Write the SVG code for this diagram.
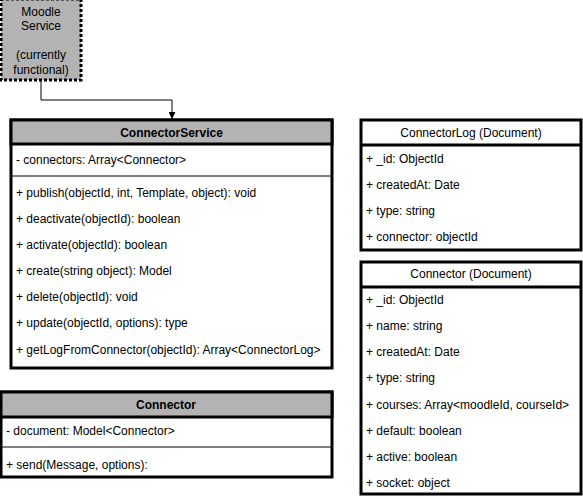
<svg xmlns="http://www.w3.org/2000/svg" width="583" height="499" viewBox="0 0 583 499">
<style>
text{font-family:"Liberation Sans",Arial,sans-serif;font-size:12px;fill:#000}
.t{font-size:12px;text-anchor:middle}
.b{font-weight:bold}
.box{fill:#fff;stroke:#000;stroke-width:3}
.hd{fill:#b3b3b3;stroke:#000;stroke-width:3}
.ln{stroke:#000;stroke-width:1}
</style>
<defs>
<marker id="arr" viewBox="0 0 10 10" refX="10" refY="5" markerWidth="7" markerHeight="7" orient="auto" markerUnits="userSpaceOnUse">
<path d="M0,0 L10,5 L0,10 Z" fill="#000"/>
</marker>
</defs>
<g id="connectors">
<path d="M41,81 V100 H172 V119" fill="none" stroke="#000" stroke-width="1" marker-end="url(#arr)"/>
</g>
<g id="moodle">
<rect x="1" y="-1" width="80" height="81" fill="#b3b3b3" stroke="#000" stroke-width="3" stroke-dasharray="3 2"/>
<text class="t" x="41" y="16">Moodle</text>
<text class="t" x="41" y="30">Service</text>
<text class="t" x="41" y="59">(currently</text>
<text class="t" x="41" y="74">functional)</text>
</g>
<g id="connectorService">
<rect class="box" x="11" y="120" width="321" height="248"/>
<rect class="hd" x="11" y="120" width="321" height="24"/>
<text class="t b" x="171.5" y="137">ConnectorService</text>
<line class="ln" x1="11" y1="176" x2="332" y2="176"/>
<text x="16" y="164">- connectors: Array&lt;Connector&gt;</text>
<text x="16" y="197">+ publish(objectId, int, Template, object): void</text>
<text x="16" y="223">+ deactivate(objectId): boolean</text>
<text x="16" y="249">+ activate(objectId): boolean</text>
<text x="16" y="275">+ create(string object): Model</text>
<text x="16" y="301">+ delete(objectId): void</text>
<text x="16" y="327">+ update(objectId, options): type</text>
<text x="16" y="354">+ getLogFromConnector(objectId): Array&lt;ConnectorLog&gt;</text>
</g>
<g id="connector">
<rect class="box" x="1" y="392" width="331" height="85"/>
<rect class="hd" x="1" y="392" width="331" height="25"/>
<text class="t b" x="166" y="409">Connector</text>
<line class="ln" x1="1" y1="447" x2="332" y2="447"/>
<text x="6" y="435">- document: Model&lt;Connector&gt;</text>
<text x="6" y="469">+ send(Message, options):</text>
</g>
<g id="connectorLog">
<rect class="box" x="361" y="120" width="220" height="130"/>
<line x1="361" y1="145" x2="581" y2="145" stroke="#000" stroke-width="3"/>
<text class="t" x="471" y="137">ConnectorLog (Document)</text>
<text x="366" y="163">+ _id: ObjectId</text>
<text x="366" y="189">+ createdAt: Date</text>
<text x="366" y="215">+ type: string</text>
<text x="366" y="241">+ connector: objectId</text>
</g>
<g id="connectorDocument">
<rect class="box" x="361" y="262" width="220" height="232"/>
<line x1="361" y1="287" x2="581" y2="287" stroke="#000" stroke-width="3"/>
<text class="t" x="471" y="278">Connector (Document)</text>
<text x="366" y="304">+ _id: ObjectId</text>
<text x="366" y="330">+ name: string</text>
<text x="366" y="356">+ createdAt: Date</text>
<text x="366" y="382">+ type: string</text>
<text x="366" y="409">+ courses: Array&lt;moodleId, courseId&gt;</text>
<text x="366" y="435">+ default: boolean</text>
<text x="366" y="461">+ active: boolean</text>
<text x="366" y="487">+ socket: object</text>
</g>
</svg>
